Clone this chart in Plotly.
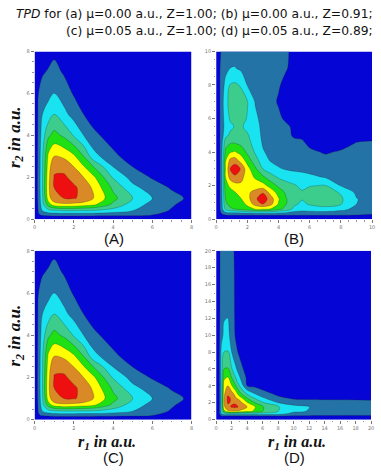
import plotly.graph_objects as go

W, H = 381, 472

# ---------------- data (symmetric TPD grids, lower triangle: row k -> r1=r[k], r2=r[0..k]) ----
r_a = [0, 0.2, 0.4, 0.7, 1, 1.5, 2, 2.5, 3, 4, 5, 6, 7, 8]
tpd_a_tri = [
    [0],
    [0, 0.9],
    [0, 1.1, 2.0],
    [0, 1.2, 2.6, 4.5],
    [0, 1.3, 2.8, 5.5, 6.8],
    [0, 1.35, 2.95, 5.8, 7.0, 7.5],
    [0, 1.35, 2.95, 5.7, 7.05, 7.15, 6.7],
    [0, 1.3, 2.9, 5.5, 6.85, 6.7, 6.0, 5.1],
    [0, 1.3, 2.85, 5.2, 6.0, 5.8, 5.2, 4.0, 2.4],
    [0, 1.25, 2.5, 3.8, 4.3, 3.8, 2.9, 2.0, 1.2, 0.6],
    [0, 1.2, 2.0, 2.5, 3.0, 2.3, 1.6, 1.0, 0.6, 0.4, 0.2],
    [0, 1.0, 1.4, 1.7, 2.0, 1.5, 0.9, 0.5, 0.3, 0.2, 0.1, 0.05],
    [0, 0.7, 0.9, 1.1, 1.3, 0.9, 0.4, 0.2, 0.1, 0.05, 0, 0, 0],
    [0, 0.3, 0.5, 0.6, 0.8, 0.4, 0.1, 0.05, 0, 0, 0, 0, 0, 0],
]

r_b = [0, 0.3, 0.6, 0.9, 1.2, 1.6, 2, 2.5, 3, 3.5, 4, 4.5, 5, 5.5, 6, 7, 8, 9, 10]
tpd_b_tri = [
    [0],
    [0, 0.9],
    [0, 1.2, 3.2],
    [0, 1.25, 3.8, 4.3],
    [0, 1.25, 4.0, 4.5, 4.7],
    [0, 1.25, 4.3, 4.6, 4.95, 5.4],
    [0, 1.25, 4.6, 5.2, 5.6, 5.8, 5.7],
    [0, 1.25, 5.0, 6.4, 6.8, 6.3, 5.5, 4.9],
    [0, 1.25, 5.0, 7.0, 7.6, 6.9, 5.4, 4.2, 3.0],
    [0, 1.25, 4.9, 6.3, 6.5, 5.6, 4.6, 3.4, 2.5, 1.9],
    [0, 1.25, 4.2, 4.9, 5.1, 4.6, 3.8, 2.9, 2.1, 1.7, 1.5],
    [0, 1.25, 3.7, 4.0, 4.05, 3.8, 3.3, 2.7, 1.9, 1.6, 1.4, 1.2],
    [0, 1.25, 2.7, 3.2, 3.4, 3.4, 3.1, 2.5, 1.8, 1.5, 1.3, 1.1, 0.95],
    [0, 1.25, 2.4, 2.8, 3.05, 3.1, 2.8, 2.3, 1.8, 1.5, 1.3, 1.1, 0.9, 0.6],
    [0, 1.25, 2.5, 3.1, 3.3, 3.3, 2.95, 2.2, 1.7, 1.4, 1.1, 0.9, 0.7, 0.5, 0.3],
    [0, 1.25, 2.7, 3.3, 3.5, 3.4, 3.05, 1.95, 1.5, 1.15, 0.95, 0.8, 0.6, 0.4, 0.3, 0.15],
    [0, 1.25, 2.3, 3.05, 3.15, 2.9, 1.95, 1.6, 1.4, 1.2, 1.05, 0.85, 0.6, 0.4, 0.3, 0.15, 0.1],
    [0, 1.2, 1.7, 2.0, 2.05, 1.8, 1.6, 1.45, 1.35, 1.25, 1.15, 1.03, 0.85, 0.6, 0.4, 0.2, 0.1, 0.05],
    [0, 1.0, 1.4, 1.5, 1.55, 1.5, 1.4, 1.3, 1.25, 1.2, 1.15, 1.05, 0.9, 0.7, 0.5, 0.2, 0.1, 0.05, 0],
]

r_c = [0, 0.2, 0.4, 0.7, 1, 1.5, 2, 2.5, 3, 4, 5, 6, 7, 8]
tpd_c_tri = [
    [0],
    [0, 0.9],
    [0, 1.1, 2.0],
    [0, 1.2, 2.6, 4.5],
    [0, 1.3, 2.8, 5.5, 6.8],
    [0, 1.35, 2.95, 5.8, 7.0, 7.5],
    [0, 1.35, 2.95, 5.7, 7.05, 7.15, 6.7],
    [0, 1.3, 2.9, 5.5, 6.85, 6.7, 6.0, 5.1],
    [0, 1.3, 2.85, 5.2, 6.0, 5.8, 5.2, 4.0, 2.4],
    [0, 1.25, 2.5, 3.8, 4.3, 3.8, 2.9, 2.0, 1.2, 0.6],
    [0, 1.2, 2.0, 2.5, 3.0, 2.3, 1.6, 1.0, 0.6, 0.4, 0.2],
    [0, 1.0, 1.4, 1.7, 2.0, 1.5, 0.9, 0.5, 0.3, 0.2, 0.1, 0.05],
    [0, 0.7, 0.9, 1.1, 1.3, 0.9, 0.4, 0.2, 0.1, 0.05, 0, 0, 0],
    [0, 0.3, 0.5, 0.6, 0.8, 0.4, 0.1, 0.05, 0, 0, 0, 0, 0, 0],
]

r_d = [0, 0.4, 0.7, 1, 1.5, 2, 2.5, 3, 4, 5, 6, 8, 10, 12, 14, 17, 20]
tpd_d_tri = [
    [0],
    [0, 0.6],
    [0, 0.9, 2.0],
    [0, 0.9, 2.6, 4.5],
    [0, 0.9, 2.6, 5.8, 6.7],
    [0, 0.9, 2.6, 5.9, 7.1, 6.9],
    [0, 0.9, 2.6, 5.9, 7.2, 6.9, 6.2],
    [0, 0.9, 2.6, 5.8, 6.9, 6.5, 5.7, 4.5],
    [0, 0.9, 2.6, 5.4, 6.0, 5.1, 4.1, 3.0, 1.0],
    [0, 0.9, 2.6, 4.8, 5.1, 4.0, 3.0, 2.1, 0.8, 0.4],
    [0, 0.9, 2.6, 4.0, 4.1, 3.1, 2.2, 1.5, 0.5, 0.2, 0.1],
    [0, 0.9, 2.4, 3.0, 3.1, 2.0, 1.3, 0.8, 0.3, 0.1, 0.05, 0],
    [0, 0.85, 1.7, 2.2, 2.3, 1.6, 0.9, 0.5, 0.2, 0.05, 0, 0, 0],
    [0, 0.8, 1.6, 1.95, 2.02, 1.5, 0.85, 0.5, 0.2, 0.05, 0, 0, 0, 0],
    [0, 0.8, 1.5, 1.7, 1.7, 1.4, 0.85, 0.5, 0.2, 0.05, 0, 0, 0, 0, 0],
    [0, 0.8, 1.45, 1.6, 1.6, 1.35, 0.85, 0.5, 0.2, 0.05, 0, 0, 0, 0, 0, 0],
    [0, 0.8, 1.4, 1.55, 1.55, 1.3, 0.8, 0.45, 0.2, 0.05, 0, 0, 0, 0, 0, 0, 0],
]

band_colors = ["#0505d6", "#2373a6", "#19e3f0", "#3ccc8c", "#1ee014",
               "#ffff00", "#d98a26", "#ee1010"]

title_line1 = "<i>TPD</i> for (a) μ=0.00 a.u., Z=1.00; (b) μ=0.00 a.u., Z=0.91;"
title_line2 = "(c) μ=0.05 a.u., Z=1.00; (d) μ=0.05 a.u., Z=0.89;"
panel_labels = ["(A)", "(B)", "(C)", "(D)"]
ylab = "<b><i>r<sub>2</sub> in a.u.</i></b>"
xlab = "<b><i>r<sub>1</sub> in a.u.</i></b>"


def full(tri):
    n = len(tri)
    z = [[0.0] * n for _ in range(n)]
    for i, row in enumerate(tri):
        for j, v in enumerate(row):
            z[i][j] = v
            z[j][i] = v
    return z


ncol = len(band_colors)
colorscale = [[k / (ncol - 1), c] for k, c in enumerate(band_colors)]

def px_x(p):
    return p / W

def px_y(p):
    return 1 - p / H

panels = [
    (r_a, tpd_a_tri, "x", "y", (33, 192), (49, 219), 2, 0.5),
    (r_b, tpd_b_tri, "x2", "y2", (217, 375), (49, 219), 2, 0.5),
    (r_c, tpd_c_tri, "x3", "y3", (33, 192), (251, 422), 2, 0.5),
    (r_d, tpd_d_tri, "x4", "y4", (217, 374), (251, 422), 2, 1),
]

fig = go.Figure()
layout_axes = {}
for r, tri, xa, ya, (x0, x1), (y0, y1), dt, mdt in panels:
    fig.add_trace(go.Contour(
        x=r, y=r, z=full(tri), xaxis=xa, yaxis=ya,
        contours=dict(start=1, end=7, size=1, coloring="fill"),
        colorscale=colorscale, showscale=False,
        line=dict(width=0.5, color="rgba(30,30,30,0.5)", smoothing=1.0),
        hoverinfo="skip",
    ))
    xname = "xaxis" + xa[1:]
    yname = "yaxis" + ya[1:]
    common = dict(showgrid=False, zeroline=False, showline=False,
                  ticks="outside", ticklen=3, tickwidth=0.6, tickcolor="#777",
                  tickfont=dict(size=5, color="#777", family="DejaVu Sans"),
                  dtick=dt, tick0=0,
                  minor=dict(ticks="outside", ticklen=1.5, dtick=mdt,
                             tickcolor="#999", tickwidth=0.5),
                  range=[0, r[-1]], fixedrange=True)
    layout_axes[xname] = dict(domain=[px_x(x0), px_x(x1)], anchor=ya, **common)
    layout_axes[yname] = dict(domain=[px_y(y1), px_y(y0)], anchor=xa, **common)

ann = []
ann.append(dict(text=title_line1, x=px_x(378), y=px_y(11), xref="paper", yref="paper",
                xanchor="right", yanchor="middle", showarrow=False,
                font=dict(size=12.3, family="DejaVu Sans", color="#111")))
ann.append(dict(text=title_line2, x=px_x(378), y=px_y(28), xref="paper", yref="paper",
                xanchor="right", yanchor="middle", showarrow=False,
                font=dict(size=12.3, family="DejaVu Sans", color="#111")))
for lbl, cx, cy in zip(panel_labels, [113, 296, 113, 296], [239, 239, 460, 460]):
    ann.append(dict(text=lbl, x=px_x(cx), y=px_y(cy), xref="paper", yref="paper",
                    xanchor="center", yanchor="middle", showarrow=False,
                    font=dict(size=15, family="Liberation Sans", color="#111")))
for cy in [136, 337]:
    ann.append(dict(text=ylab, x=px_x(14), y=px_y(cy), xref="paper", yref="paper",
                    xanchor="center", yanchor="middle", showarrow=False, textangle=-90,
                    font=dict(size=17, family="Liberation Serif", color="#111")))
for cx in [106, 299]:
    ann.append(dict(text=xlab, x=px_x(cx), y=px_y(445), xref="paper", yref="paper",
                    xanchor="center", yanchor="middle", showarrow=False,
                    font=dict(size=16, family="Liberation Serif", color="#111")))

fig.update_layout(
    width=W, height=H, margin=dict(l=0, r=0, t=0, b=0),
    paper_bgcolor="white", plot_bgcolor="white", showlegend=False,
    annotations=ann, **layout_axes,
)

fig.write_html(
    "out.html",
    config={"displayModeBar": False},
    post_script="document.body.style.margin='0';document.body.style.overflow='hidden';",
)
